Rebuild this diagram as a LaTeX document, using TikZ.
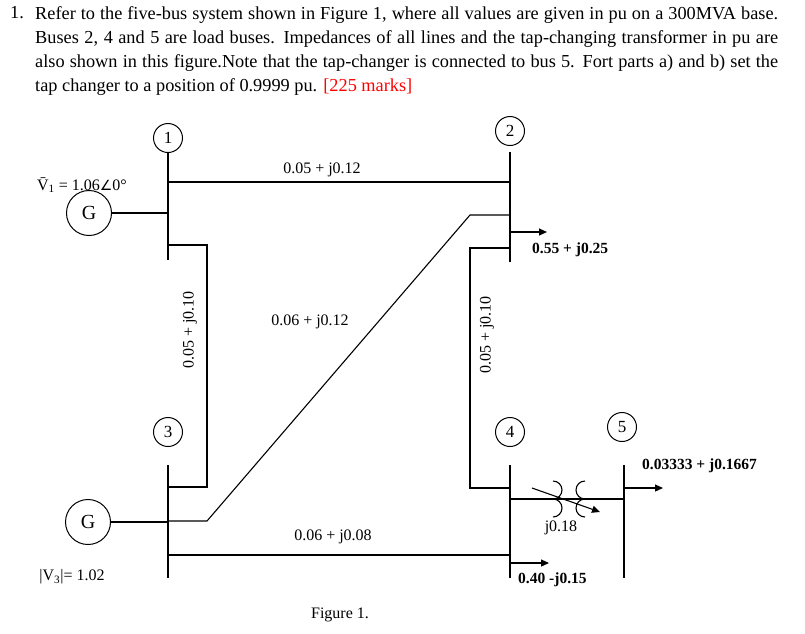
\documentclass[tikz,border=0pt]{standalone}
\usepackage{fontspec}
\setmainfont{Liberation Serif}
\newfontfamily\dvfont{DejaVu Sans}
\usetikzlibrary{arrows.meta}
\begin{document}
\begin{tikzpicture}[x=1pt,y=-1pt,font=\fontsize{16}{18}\selectfont,
  bus/.style={line width=2.2pt},
  wire/.style={line width=1.1pt},
  num/.style={draw,circle,minimum size=29pt,inner sep=0pt,line width=1pt,font=\fontsize{17}{18}\selectfont},
  gen/.style={draw,circle,minimum size=45pt,inner sep=0pt,line width=1pt,font=\fontsize{20}{22}\selectfont},
  load/.style={wire,-{Triangle[length=8pt,width=7pt]}},
  lbl/.style={inner sep=1pt},
  bl/.style={inner sep=1pt,font=\fontsize{15.5}{17}\selectfont\bfseries}]
\useasboundingbox (0,0) rectangle (805,633);
\node[anchor=north west,inner sep=0pt,align=left] (hdr) at (10,6) {\fontsize{18.3}{24.3}\selectfont 1.};
\node[anchor=north west,inner sep=0pt] (txt) at (35,6) {\parbox[t]{743pt}{\fontsize{18.3}{24.3}\selectfont\setlength{\parfillskip}{0pt plus 1fil}Refer to the five-bus system shown in Figure 1, where all values are given in pu on a 300MVA base. Buses 2, 4 and 5 are load buses. Impedances of all lines and the tap-changing transformer in pu are also shown in this figure.Note that the tap-changer is connected to bus 5. Fort parts a) and b) set the tap changer to a position of 0.9999 pu. \textcolor{red}{[225 marks]}}};
% buses
\coordinate (b1t) at (168,152); \coordinate (b1b) at (168,260);
\coordinate (b2t) at (510,152); \coordinate (b2b) at (510,262);
\coordinate (b3t) at (168,465); \coordinate (b3b) at (168,578);
\coordinate (b4t) at (510,465); \coordinate (b4b) at (510,578);
\coordinate (b5t) at (624,465); \coordinate (b5b) at (624,578);
\draw[bus] (b1t)--(b1b); \draw[bus] (b2t)--(b2b); \draw[bus] (b3t)--(b3b);
\draw[bus] (b4t)--(b4b); \draw[bus] (b5t)--(b5b);
\node[num] (n1) at (168,138) {1};
\node[num] (n2) at (510,131) {2};
\node[num] (n3) at (168,432) {3};
\node[num] (n4) at (510,432) {4};
\node[num] (n5) at (622,427) {5};
% generators
\node[gen] (g1) at (89,213) {G};
\node[gen] (g3) at (88,522) {G};
\draw[wire] (g1.east)--(168,213);
\draw[wire] (g3.east)--(168,522);
\node[lbl] (v1) at (82,185) {\={V}\textsubscript{1} = 1.06{\dvfont\fontsize{14}{16}\selectfont ∠}0°};
\node[lbl] (v3) at (72,577) {|V\textsubscript{3}|= 1.02};
% lines
\draw[wire] (168,182)--(510,182);
\node[lbl] (l12) at (322,170) {0.05 + j0.12};
\draw[wire] (168,245)--(207,245)--(207,487)--(168,487);
\node[lbl,rotate=90] (l13) at (190,330) {0.05 + j0.10};
\draw[wire] (510,248)--(470,248)--(470,488)--(510,488);
\node[lbl,rotate=90] (l24) at (487,335) {0.05 + j0.10};
\draw[wire] (168,521)--(207,521)--(470,215)--(510,215);
\node[lbl] (l23) at (310,322) {0.06 + j0.12};
\draw[wire] (168,555)--(510,555);
\node[lbl] (l34) at (333,537) {0.06 + j0.08};
% loads
\draw[load] (510,232)--(547,232);
\node[bl,anchor=west] (ld2) at (531,250) {0.55 + j0.25};
\draw[load] (510,563)--(549,563);
\node[bl,anchor=west] (ld4) at (517,580) {0.40 -j0.15};
\draw[load] (624,488)--(663,488);
\node[bl,anchor=west] (ld5) at (641,466) {0.03333 + j0.1667};
% transformer
\draw[wire] (510,499)--(624,499);
\draw[wire] (553,481) arc[start angle=-90,end angle=90,radius=9] arc[start angle=-90,end angle=90,radius=9];
\draw[wire] (585,481) arc[start angle=270,end angle=90,radius=9] arc[start angle=270,end angle=90,radius=9];
\draw[wire,-{Triangle[length=8pt,width=7pt]}] (532,488)--(600,512);
\node[lbl] (tx) at (561,528) {j0.18};
\node[lbl] (fig) at (340,615) {Figure 1.};
\end{tikzpicture}
\end{document}
